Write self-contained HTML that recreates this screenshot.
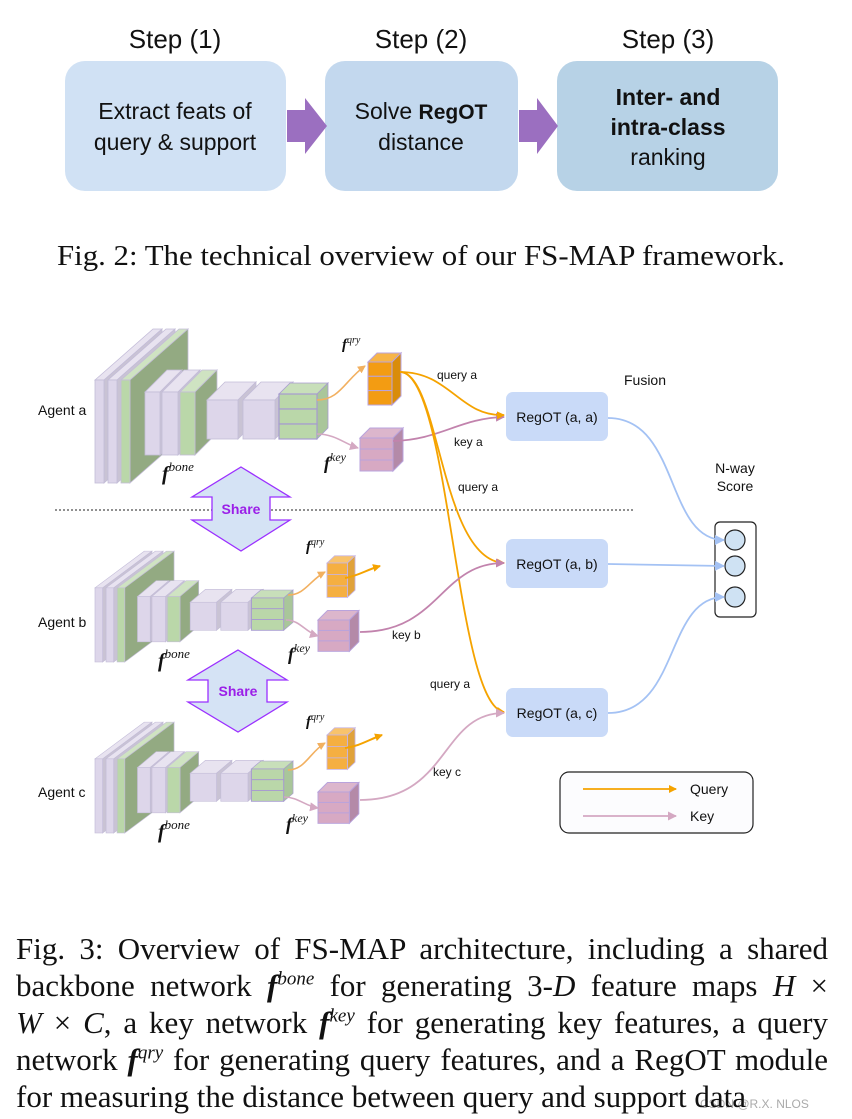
<!DOCTYPE html>
<html><head><meta charset="utf-8"><style>
html,body{margin:0;padding:0;background:#fff}
body{width:852px;height:1119px;position:relative;overflow:hidden}
svg{position:absolute;left:0;top:0}
.cap{position:absolute;font-family:"Liberation Serif",serif;color:#111}
.ln{display:block;text-align:justify;text-align-last:justify;white-space:nowrap;height:37px;line-height:37px}
</style></head><body>
<svg width="852" height="1119" viewBox="0 0 852 1119" xmlns="http://www.w3.org/2000/svg" font-family="Liberation Sans, sans-serif">
<defs>
<marker id="mo" markerWidth="8" markerHeight="8" refX="7" refY="4" orient="auto" markerUnits="userSpaceOnUse"><path d="M0,0 L8,4 L0,8 z" fill="#f5a300"/></marker>
<marker id="mol" markerWidth="8" markerHeight="8" refX="7" refY="4" orient="auto" markerUnits="userSpaceOnUse"><path d="M0,0 L8,4 L0,8 z" fill="#f2b060"/></marker>
<marker id="mp" markerWidth="9" markerHeight="9" refX="8" refY="4.5" orient="auto" markerUnits="userSpaceOnUse"><path d="M0,0 L9,4.5 L0,9 z" fill="#c283ad"/></marker>
<marker id="mpl" markerWidth="9" markerHeight="9" refX="8" refY="4.5" orient="auto" markerUnits="userSpaceOnUse"><path d="M0,0 L9,4.5 L0,9 z" fill="#d4a8c2"/></marker>
<marker id="mb" markerWidth="10" markerHeight="10" refX="9" refY="5" orient="auto" markerUnits="userSpaceOnUse"><path d="M0,0 L10,5 L0,10 z" fill="#a4c2f4"/></marker>
<g id="bb" stroke="#c3bcd8" stroke-width="0.8">
 <polygon points="0,-103 58,-154 67,-154 9,-103" fill="#e8e3f0"/><polygon points="9,-103 67,-154 67,-51 9,0" fill="#c9c3d4"/><rect x="0" y="-103" width="9" height="103" fill="#ddd6ea"/>
 <polygon points="13,-103 71,-154 80,-154 22,-103" fill="#e8e3f0"/><polygon points="22,-103 80,-154 80,-51 22,0" fill="#c9c3d4"/><rect x="13" y="-103" width="9" height="103" fill="#ddd6ea"/>
 <polygon points="26,-103 84,-154 93,-154 35,-103" fill="#cfe3c2"/><polygon points="35,-103 93,-154 93,-51 35,0" fill="#93aa82"/><rect x="26" y="-103" width="9" height="103" fill="#bad7a9"/>
 <polygon points="50,-91 72,-113 87,-113 65,-91" fill="#e8e3f0"/><polygon points="65,-91 87,-113 87,-50 65,-28" fill="#c9c3d4"/><rect x="50" y="-91" width="15" height="63" fill="#ddd6ea"/>
 <polygon points="67,-91 89,-113 105,-113 83,-91" fill="#e8e3f0"/><polygon points="83,-91 105,-113 105,-50 83,-28" fill="#c9c3d4"/><rect x="67" y="-91" width="16" height="63" fill="#ddd6ea"/>
 <polygon points="85,-91 107,-113 122,-113 100,-91" fill="#cfe3c2"/><polygon points="100,-91 122,-113 122,-50 100,-28" fill="#93aa82"/><rect x="85" y="-91" width="15" height="63" fill="#bad7a9"/>
 <polygon points="112,-83 130,-101 161,-101 143,-83" fill="#e8e3f0"/><polygon points="143,-83 161,-101 161,-62 143,-44" fill="#c9c3d4"/><rect x="112" y="-83" width="31" height="39" fill="#ddd6ea"/>
 <polygon points="148,-83 166,-101 198,-101 180,-83" fill="#e8e3f0"/><polygon points="180,-83 198,-101 198,-62 180,-44" fill="#c9c3d4"/><rect x="148" y="-83" width="32" height="39" fill="#ddd6ea"/>
 <polygon points="184,-89 195,-100 233,-100 222,-89" fill="#c8dfba" stroke="#a79bd0"/><polygon points="222,-89 233,-100 233,-55 222,-44" fill="#a9c69a" stroke="#a79bd0"/>
 <rect x="184" y="-89" width="38" height="15" fill="#bad7a9" stroke="#a79bd0" stroke-width="1.2"/><rect x="184" y="-74" width="38" height="15" fill="#bad7a9" stroke="#a79bd0" stroke-width="1.2"/><rect x="184" y="-59" width="38" height="15" fill="#bad7a9" stroke="#a79bd0" stroke-width="1.2"/>
</g>
<g id="os" stroke="#b9a3dc" stroke-width="1">
 <polygon points="0,0 9,-9 33,-9 24,0" fill="#f7b548"/><polygon points="24,0 33,-9 33,34 24,43" fill="#d98c0a"/>
 <rect x="0" y="0" width="24" height="14.3" fill="#f39c12"/><rect x="0" y="14.3" width="24" height="14.3" fill="#f39c12"/><rect x="0" y="28.6" width="24" height="14.4" fill="#f39c12"/>
</g>
<g id="ps" stroke="#b9a3dc" stroke-width="1">
 <polygon points="0,0 10,-10 43,-10 33,0" fill="#dcb6cc"/><polygon points="33,0 43,-10 43,23 33,33" fill="#b48aa8"/>
 <rect x="0" y="0" width="33" height="11" fill="#d7a9c3"/><rect x="0" y="11" width="33" height="11" fill="#d7a9c3"/><rect x="0" y="22" width="33" height="11" fill="#d7a9c3"/>
</g>
</defs>

<!-- Fig 2 -->
<g font-size="26" fill="#111" text-anchor="middle">
<text x="175" y="48">Step (1)</text><text x="421" y="48">Step (2)</text><text x="668" y="48">Step (3)</text>
</g>
<rect x="65" y="61" width="221" height="130" rx="20" fill="#d0e1f4"/>
<rect x="325" y="61" width="193" height="130" rx="20" fill="#c3d8ee"/>
<rect x="557" y="61" width="221" height="130" rx="20" fill="#b7d2e6"/>
<polygon points="287,110 305,110 305,98 327,126 305,154 305,142 287,142" fill="#9b6fc0"/>
<polygon points="519,110 537,110 537,98 558,126 537,154 537,142 519,142" fill="#9b6fc0"/>
<g font-size="23" fill="#111" text-anchor="middle">
<text x="175" y="119">Extract feats of</text><text x="175" y="150">query &amp; support</text>
<text x="421" y="119">Solve <tspan font-weight="bold" font-size="21">RegOT</tspan></text><text x="421" y="150">distance</text>
<text x="668" y="105" font-weight="bold">Inter- and</text><text x="668" y="135" font-weight="bold">intra-class</text><text x="668" y="165">ranking</text>
</g>
<text x="57" y="265" font-family="Liberation Serif, serif" font-size="28" fill="#111" textLength="728" lengthAdjust="spacingAndGlyphs">Fig. 2: The technical overview of our FS-MAP framework.</text>

<!-- Fig 3 diagram -->
<line x1="55" y1="510" x2="635" y2="510" stroke="#222" stroke-width="1" stroke-dasharray="2,2"/>

<use href="#bb" transform="translate(95,483)"/>
<use href="#bb" transform="translate(95,662) scale(0.85,0.72)"/>
<use href="#bb" transform="translate(95,833) scale(0.85,0.72)"/>

<use href="#os" transform="translate(368,362)"/>
<use href="#ps" transform="translate(360,438)"/>
<use href="#os" transform="translate(327,563) scale(0.85,0.8)" opacity="0.8"/>
<use href="#ps" transform="translate(318,620) scale(0.95,0.95)"/>
<use href="#os" transform="translate(327,735) scale(0.85,0.8)" opacity="0.8"/>
<use href="#ps" transform="translate(318,792) scale(0.95,0.95)"/>

<!-- share arrows -->
<g fill="#d5e3f5" stroke="#9b30ff" stroke-width="1.3">
<polygon points="241,467 290,497 270,497 270,520 290,520 241,551 192,520 212,520 212,497 192,497"/>
<polygon points="238,650 287,680 267,680 267,702 287,702 238,732 188,702 208,702 208,680 188,680"/>
</g>
<g font-size="14" font-weight="bold" fill="#9b1fe8" text-anchor="middle">
<text x="241" y="514">Share</text><text x="238" y="696">Share</text>
</g>

<!-- small connectors -->
<g fill="none" stroke-width="1.6">
<path d="M317,400 C340,400 345,380 365,366" stroke="#f2b060" marker-end="url(#mol)"/>
<path d="M317,434 C335,434 345,444 358,448" stroke="#d4a8c2" marker-end="url(#mpl)"/>
<path d="M288,595 C305,595 310,580 325,572" stroke="#f2b060" marker-end="url(#mol)"/>
<path d="M286,620 C300,620 305,632 318,636" stroke="#d4a8c2" marker-end="url(#mpl)"/>
<path d="M288,770 C305,770 310,752 325,743" stroke="#f2b060" marker-end="url(#mol)"/>
<path d="M284,797 C298,797 305,806 318,808" stroke="#d4a8c2" marker-end="url(#mpl)"/>
<path d="M345,578 C358,576 366,570 380,566" stroke="#f5a300" stroke-width="2" marker-end="url(#mo)"/>
<path d="M345,748 C360,746 368,740 382,735" stroke="#f5a300" stroke-width="2" marker-end="url(#mo)"/>
</g>

<rect x="715" y="522" width="41" height="95" rx="5" fill="#fff" stroke="#222" stroke-width="1.2"/>
<g fill="#cfe2f3" stroke="#222" stroke-width="1.2">
<circle cx="735" cy="540" r="10"/><circle cx="735" cy="566" r="10"/><circle cx="735" cy="597" r="10"/>
</g>

<!-- main connectors -->
<g fill="none" stroke-width="1.8">
<path d="M393,441 C440,440 460,418 504,417" stroke="#c283ad" marker-end="url(#mp)"/>
<path d="M400,372 C450,372 460,417 504,415" stroke="#f5a300" marker-end="url(#mo)"/>
<path d="M400,372 C440,372 440,560 504,563" stroke="#f5a300" marker-end="url(#mo)"/>
<path d="M400,372 C450,372 455,705 504,712" stroke="#f5a300" marker-end="url(#mo)"/>
<path d="M360,632 C440,632 440,563 504,563" stroke="#c283ad" marker-end="url(#mp)"/>
<path d="M360,800 C450,800 440,713 504,713" stroke="#d4a8c2" marker-end="url(#mpl)"/>
<path d="M608,418 C680,418 665,540 724,540" stroke="#a4c2f4" marker-end="url(#mb)"/>
<path d="M608,564 L724,566" stroke="#a4c2f4" marker-end="url(#mb)"/>
<path d="M608,713 C680,713 665,597 724,597" stroke="#a4c2f4" marker-end="url(#mb)"/>
</g>

<g fill="#c9daf8">
<rect x="506" y="392" width="102" height="49" rx="7"/>
<rect x="506" y="539" width="102" height="49" rx="7"/>
<rect x="506" y="688" width="102" height="49" rx="7"/>
</g>
<g font-size="14" fill="#111" text-anchor="middle">
<text x="557" y="422">RegOT (a, a)</text><text x="557" y="569">RegOT (a, b)</text><text x="557" y="718">RegOT (a, c)</text>
<text x="645" y="385">Fusion</text>
<text x="735" y="473">N-way</text><text x="735" y="491">Score</text>
</g>

<g font-size="12" fill="#111">
<text x="437" y="379">query a</text>
<text x="454" y="446">key a</text>
<text x="458" y="491">query a</text>
<text x="392" y="639">key b</text>
<text x="430" y="688">query a</text>
<text x="433" y="776">key c</text>
</g>
<g font-size="14" fill="#111">
<text x="38" y="415">Agent a</text><text x="38" y="627">Agent b</text><text x="38" y="797">Agent c</text>
</g>
<g font-family="Liberation Serif, serif" fill="#111">
<text x="162" y="480" font-size="20" font-weight="bold" font-style="italic">f<tspan font-size="13" dy="-9" font-weight="normal">bone</tspan></text>
<text x="158" y="667" font-size="20" font-weight="bold" font-style="italic">f<tspan font-size="13" dy="-9" font-weight="normal">bone</tspan></text>
<text x="158" y="838" font-size="20" font-weight="bold" font-style="italic">f<tspan font-size="13" dy="-9" font-weight="normal">bone</tspan></text>
<text x="342" y="349" font-size="15" font-weight="bold" font-style="italic">f<tspan font-size="10" dy="-6" font-weight="normal">qry</tspan></text>
<text x="324" y="469" font-size="18" font-weight="bold" font-style="italic">f<tspan font-size="12" dy="-8" font-weight="normal">key</tspan></text>
<text x="306" y="551" font-size="15" font-weight="bold" font-style="italic">f<tspan font-size="10" dy="-6" font-weight="normal">qry</tspan></text>
<text x="288" y="660" font-size="18" font-weight="bold" font-style="italic">f<tspan font-size="12" dy="-8" font-weight="normal">key</tspan></text>
<text x="306" y="726" font-size="15" font-weight="bold" font-style="italic">f<tspan font-size="10" dy="-6" font-weight="normal">qry</tspan></text>
<text x="286" y="830" font-size="18" font-weight="bold" font-style="italic">f<tspan font-size="12" dy="-8" font-weight="normal">key</tspan></text>
</g>

<!-- legend -->
<rect x="560" y="772" width="193" height="61" rx="9" fill="#fcfcfe" stroke="#222" stroke-width="1.2"/>
<line x1="583" y1="789" x2="676" y2="789" stroke="#f5a300" stroke-width="1.8" marker-end="url(#mo)"/>
<line x1="583" y1="816" x2="676" y2="816" stroke="#d4a8c2" stroke-width="1.8" marker-end="url(#mpl)"/>
<g font-size="14" fill="#111"><text x="690" y="794">Query</text><text x="690" y="821">Key</text></g>
<text x="700" y="1108" font-size="12" fill="#aaa">CSDN @R.X. NLOS</text>
</svg>

<div class="cap" style="left:16px;top:930px;width:812px;font-size:31px">
<span class="ln">Fig. 3: Overview of FS-MAP architecture, including a shared</span>
<span class="ln">backbone network <b><i>f</i></b><sup style="font-size:19px;font-style:italic;line-height:0">bone</sup> for generating 3-<i>D</i> feature maps <i>H</i> ×</span>
<span class="ln"><i>W</i> × <i>C</i>, a key network <b><i>f</i></b><sup style="font-size:19px;font-style:italic;line-height:0">key</sup> for generating key features, a query</span>
<span class="ln">network <b><i>f</i></b><sup style="font-size:19px;font-style:italic;line-height:0">qry</sup> for generating query features, and a RegOT module</span>
<span class="ln" style="text-align-last:left">for measuring the distance between query and support data</span>
</div>
</body></html>
